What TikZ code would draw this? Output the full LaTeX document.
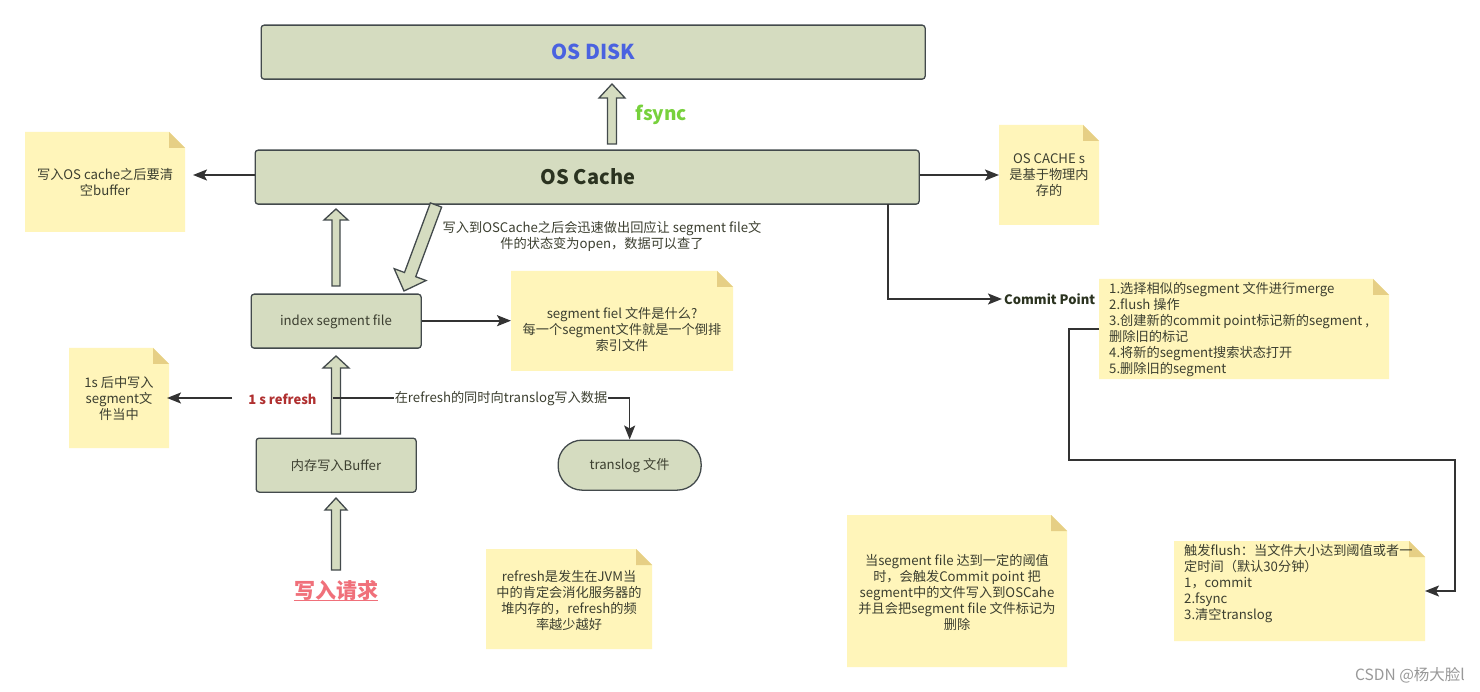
\documentclass[tikz,border=0pt]{standalone}
\usepackage{fontspec}
\setmainfont{Noto Sans CJK SC}
\usetikzlibrary{arrows.meta,calc}
\definecolor{boxfill}{HTML}{D5DCC0}
\definecolor{boxline}{HTML}{434A4C}
\definecolor{notefill}{HTML}{FFF5BA}
\definecolor{notefold}{HTML}{E6CF85}
\definecolor{ink}{HTML}{333333}
\definecolor{txtc}{HTML}{3C3F30}
\tikzset{
  box/.style={draw=boxline,fill=boxfill,line width=1.3pt,rounded corners=3pt,inner sep=0pt,anchor=north west},
  txt/.style={text=txtc,font=\fontsize{13.2}{16}\selectfont,align=center,inner sep=0pt,yshift=-0.5pt},
  txtl/.style={txt,align=left,anchor=west},
  conn/.style={draw=ink,line width=1.5pt,-{Stealth[length=14pt,width=11pt,inset=3pt]}},
  blk/.style={draw=boxline,fill=boxfill,line width=1.3pt,line join=miter},
  notebody/.style={inner sep=0pt,outer sep=0pt,anchor=north west}
}
\newcommand{\stickynote}[5]{%
  \node[notebody,minimum width=#4pt,minimum height=#5pt] (#1) at (#2,#3) {};
  \fill[notefill] (#1.north west) -- ([xshift=-16pt]#1.north east) -- ([yshift=-16pt]#1.north east) -- (#1.south east) -- (#1.south west) -- cycle;
  \fill[notefold] ([xshift=-16pt]#1.north east) -- ([yshift=-16pt]#1.north east) -- ([xshift=-16pt,yshift=-16pt]#1.north east) -- cycle;
}
\newcommand{\blockarrow}[5]{%
  \coordinate (hb) at ($(#2)!#5pt!(#1)$);
  \draw[blk] ($(#1)!#3pt!90:(#2)$) -- ($(hb)!#3pt!-90:(#1)$) -- ($(hb)!#4pt!-90:(#1)$) -- (#2)
    -- ($(hb)!#4pt!90:(#1)$) -- ($(hb)!#3pt!90:(#1)$) -- ($(#1)!#3pt!-90:(#2)$) -- cycle;
}
\begin{document}
\begin{tikzpicture}[x=1pt,y=-1pt]
\useasboundingbox (0,0) rectangle (1480,692);
\fill[white] (0,0) rectangle (1480,692);

% boxes
\node[box,minimum width=664pt,minimum height=54pt] (disk) at (260.5,24.5) {};
\node[font=\fontsize{20.5}{24}\selectfont\bfseries,inner sep=0pt] (disklabel) at (593,52) {\textcolor[HTML]{4A62E0}{OS DISK}};
\node[box,minimum width=664pt,minimum height=54pt] (cache) at (254.5,149.5) {};
\node[font=\fontsize{20}{24}\selectfont\bfseries,inner sep=0pt] (cachelabel) at (588,177) {\textcolor[HTML]{2B3320}{OS Cache}};
\node[box,minimum width=170pt,minimum height=54pt] (index) at (250.5,293.5) {};
\node[txt] (indexlabel) at (336,321) {index segment file};
\node[box,minimum width=160pt,minimum height=54pt] (buffer) at (255.5,437.5) {};
\node[txt] (bufferlabel) at (336,465) {内存写入Buffer};
\node[box,rounded corners=24pt,minimum width=143pt,minimum height=50pt] (translog) at (557.5,439.5) {};
\node[txt] (transloglabel) at (629.5,465) {translog 文件};

% notes
\stickynote{noteA}{25}{132}{160}{100}
\node[txt] (noteAt) at (105,182) {写入OS cache之后要清\\空buffer};
\stickynote{noteB}{69}{348}{100}{100}
\node[txt] (noteBt) at (119,398) {1s 后中写入\\segment文\\件当中};
\stickynote{noteC}{511}{271}{222}{100}
\node[txt] (noteCt) at (622,329) {segment fiel 文件是什么?\\每一个segment文件就是一个倒排\\索引文件};
\stickynote{noteD}{999}{125}{100}{100}
\node[txt] (noteDt) at (1049,175) {OS CACHE s\\是基于物理内\\存的};
\stickynote{noteE}{1099}{279}{290}{100}
\node[txtl] (noteEt) at (1109,329) {1.选择相似的segment 文件进行merge\\2.flush 操作\\3.创建新的commit point标记新的segment ,\\删除旧的标记\\4.将新的segment搜索状态打开\\5.删除旧的segment};
\stickynote{noteF}{1174}{541}{251}{100}
\node[txtl] (noteFt) at (1184,583) {触发flush：当文件大小达到阈值或者一\\定时间（默认30分钟）\\1，commit\\2.fsync\\3.清空translog};
\stickynote{noteG}{847}{515}{220}{152}
\node[txt] (noteGt) at (957,592) {当segment file 达到一定的阈值\\时，会触发Commit point  把\\segment中的文件写入到OSCahe\\并且会把segment file 文件标记为\\删除};
\stickynote{noteH}{486}{549}{166}{100}
\node[txt] (noteHt) at (569,600) {refresh是发生在JVM当\\中的肯定会消化服务器的\\堆内存的，refresh的频\\率越少越好};

% labels
\node[font=\fontsize{19}{22}\selectfont\bfseries,inner sep=0pt] (fsynclabel) at (661.5,115) {\textcolor[HTML]{77D13C}{fsync}};
\node[txt] (cachenote) at (602,236) {写入到OSCache之后会迅速做出回应让 segment file文\\件的状态变为open，数据可以查了};
\node[font=\fontsize{13}{15}\selectfont\bfseries,inner sep=0pt] (refresh) at (282.5,399) {\textcolor[HTML]{B03030}{1 s refresh}};
\node[font=\fontsize{13}{15}\selectfont\bfseries,inner sep=0pt,anchor=west] (commit) at (1004,299) {\textcolor[HTML]{2B3320}{Commit Point}};
\node[font=\fontsize{21}{24}\selectfont\bfseries,inner sep=0pt] (req) at (336,590) {\textcolor[HTML]{F0707A}{写入请求}};
\draw[draw={rgb,255:red,240;green,112;blue,122},line width=1.5pt] (req.south west) -- (req.south east);
\node[font=\fontsize{15.5}{17}\selectfont,inner sep=0pt,anchor=east] (mark) at (1465,675) {\textcolor[HTML]{999999}{CSDN @杨大脸l}};

% block arrows
\coordinate (a1s) at (612,144); \coordinate (a1e) at (612,84);
\blockarrow{a1s}{a1e}{4.5}{13}{14}
\coordinate (a2s) at (336,286); \coordinate (a2e) at (336,209);
\blockarrow{a2s}{a2e}{4}{12}{11}
\coordinate (a3s) at (436,205); \coordinate (a3e) at (404,291);
\blockarrow{a3s}{a3e}{6}{17}{17.5}
\coordinate (a4s) at (336,434); \coordinate (a4e) at (336,356);
\blockarrow{a4s}{a4e}{4.5}{13}{12}
\coordinate (a5s) at (336,570); \coordinate (a5e) at (336,498);
\blockarrow{a5s}{a5e}{4.5}{11}{12}

% connectors
\coordinate (tipA) at (193,175);
\draw[conn] (cache.west |- tipA) -- (tipA);
\coordinate (tipD) at (999,175);
\draw[conn] (cache.east |- tipD) -- (noteD.west |- tipD);
\coordinate (cdrop) at (888,204);
\draw[conn,shorten >=2pt] (cdrop) |- (commit.west);
\coordinate (tipC) at (511,320.7);
\draw[conn,line width=1.9pt] (index.east |- tipC) -- (tipC);
\coordinate (tipB) at (167,398); \coordinate (refl) at (232,398);
\draw[conn] (refl) -- (tipB);
\coordinate (refs) at (333,398);
\draw[conn] (refs) -| (translog.north);
\node[txt,fill=white,inner xsep=1pt,inner ysep=1pt] (refnote) at (501,398) {在refresh的同时向translog写入数据};
\coordinate (es) at (1099,329); \coordinate (ev) at (1069,460); \coordinate (fv) at (1455,591); \coordinate (ft) at (1425,591);
\draw[conn] (es) -| (ev) -| (fv) -- (ft);
\end{tikzpicture}
\end{document}
